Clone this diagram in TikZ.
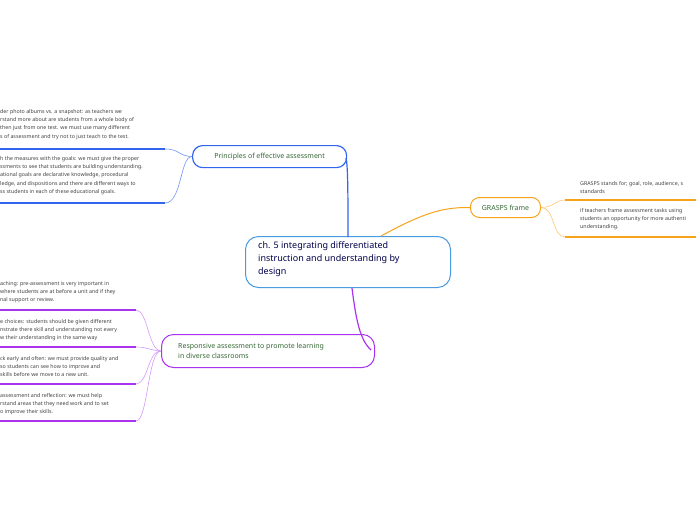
\documentclass[tikz,border=0pt]{standalone}
\usepackage{fontspec}
\setmainfont{Noto Sans}
\begin{document}
\begin{tikzpicture}[x=1pt,y=-1pt,
 leaf/.style={anchor=north west,align=left,font=\fontsize{5.3}{8.3}\selectfont,text=black!75,inner sep=0pt},
 topic/.style={draw,line width=1.2pt,rounded corners=10pt,align=left,font=\fontsize{7}{10}\selectfont,text=green!25!black!80,inner sep=0pt,anchor=north west},
 ul/.style={line width=1.3pt}]
\useasboundingbox (0,0) rectangle (696,520);
\clip (0,0) rectangle (696,520);
\definecolor{cblue}{HTML}{3366EE}
\definecolor{corange}{HTML}{F7A21B}
\definecolor{cpurple}{HTML}{AA33EE}
\definecolor{ccent}{HTML}{4A9BE0}
% central
\node[draw=ccent,line width=1pt,rounded corners=13pt,minimum width=205pt,minimum height=51pt,anchor=north west,inner sep=0pt] (c) at (245,236) {};
\node[anchor=north west,align=left,font=\fontsize{9}{13}\selectfont,text=blue!30!black,inner sep=0pt] (ct) at (258,241) {ch. 5 integrating differentiated\\instruction and understanding by\\design};
% principles
\node[topic,draw=cblue,minimum width=154pt,minimum height=22pt] (p) at (192,145) {};
\node[anchor=center,font=\fontsize{7}{10}\selectfont,text=green!25!black!80] (pt) at (p.center) {Principles of effective assessment};
\draw[cblue,line width=1.2pt] (348,237) .. controls (348,200) and (348,165) .. (346,158) coordinate (pe);
\node[leaf] (p1) at (0,109) {der photo albums vs. a snapshot: as teachers we\\rstand more about are students from a whole body of\\ then just from one test. we must use many different\\s of assessment and try not to just teach to the test.};
\node[leaf] (p2) at (0,156) {h the measures with the goals: we must give the proper\\ssments to see that students are building understanding.\\ational goals are declarative knowledge, procedural\\ledge, and dispositions and there are different ways to\\ss students in each of these educational goals.};
\coordinate (p1e) at (165,149); \coordinate (p2e) at (165,203);
\draw[cblue,ul] (0,149) -- (p1e); \draw[cblue,ul] (0,203) -- (p2e);
\draw[cblue!70,line width=0.6pt] (p.west) .. controls (178,156) and (180,149) .. (p1e);
\draw[cblue!70,line width=0.6pt] (p.west) .. controls (180,156) and (182,203) .. (p2e);
% grasps
\node[draw=corange,line width=1pt,rounded corners=9pt,minimum width=70pt,minimum height=20pt,anchor=north west,inner sep=0pt,font=\fontsize{7}{10}\selectfont,text=green!25!black!80] (g) at (470,197) {GRASPS frame};
\draw[corange,line width=1pt] (c.north east) ++(-70,0) .. controls (420,215) and (440,207) .. (g.west);
\node[leaf] (g1) at (580,181) {GRASPS stands for; goal, role, audience, s\\standards};
\node[leaf] (g2) at (580,208) {if teachers frame assessment tasks using\\students an opportunity for more authenti\\understanding.};
\coordinate (g1s) at (565,200); \coordinate (g2s) at (565,237);
\draw[corange,ul] (g1s) -- (696,200); \draw[corange,ul] (g2s) -- (696,237);
\draw[corange!60,line width=0.6pt] (g.east) .. controls (555,207) and (555,200) .. (g1s);
\draw[corange!60,line width=0.6pt] (g.east) .. controls (555,207) and (552,237) .. (g2s);
% responsive
\node[draw=cpurple,line width=1pt,rounded corners=12pt,minimum width=213pt,minimum height=33pt,anchor=north west,inner sep=0pt] (r) at (161,334) {};
\node[anchor=west,align=left,font=\fontsize{7}{10}\selectfont,text=green!25!black!80,inner sep=0pt] (rt) at (178,350.5) {Responsive assessment to promote learning\\in diverse classrooms};
\draw[cpurple,line width=1.2pt] (352,288) .. controls (356,320) and (360,340) .. (371,350);
\node[leaf] (r1) at (0,281) {aching: pre-assessment is very important in\\where students are at before a unit and if they\\nal support or review.};
\node[leaf] (r2) at (0,319) {e choices:  students should be given different\\nstrate there skill and understanding not every\\w their understanding in the same way};
\node[leaf] (r3) at (0,356) {ck early and often: we must provide quality and\\ so students can see how to improve and\\ skills before we move to a new unit.};
\node[leaf] (r4) at (0,393) {assessment and reflection: we must help\\rstand areas that they need work and to set\\o improve their skills.};
\foreach \y/\n in {310/a,347/b,384/c,421/d}{
 \coordinate (r\n) at (136,\y);
 \draw[cpurple,ul] (0,\y) -- (r\n);
 \draw[cpurple!50,line width=0.6pt] (r.west) .. controls (148,350) and (148,\y) .. (r\n);
}
\end{tikzpicture}
\end{document}
